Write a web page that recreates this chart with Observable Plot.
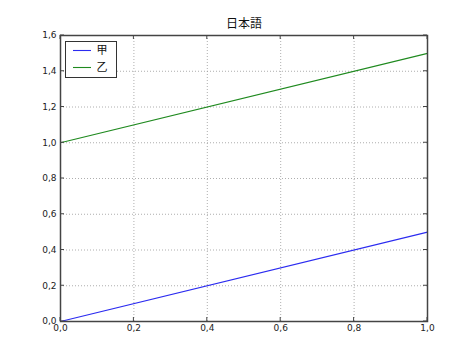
<!DOCTYPE html>
<html>
<head>
<meta charset="utf-8">
<script src="https://cdn.jsdelivr.net/npm/d3@7"></script>
<script src="https://cdn.jsdelivr.net/npm/@observablehq/plot@0.6"></script>
<style>
  body { margin: 0; background: #fff; }
</style>
</head>
<body>
<div id="chart"></div>
<script>
// Chart content
const chartTitle = "日本語";
const xValues = [0, 1];
const seriesNames = ["甲", "乙"];
const koValues = [0, 0.5];    // 甲
const otsuValues = [1, 1.5];  // 乙
const seriesColors = ["#2b2bf0", "#1f8a1f"];
const xTicks = [0, 0.2, 0.4, 0.6, 0.8, 1.0];
const yTicks = [0, 0.2, 0.4, 0.6, 0.8, 1.0, 1.2, 1.4, 1.6];

// Decimal comma tick labels
const fmt = d => d.toFixed(1).replace(".", ",");

const rows = [
  ...xValues.map((x, i) => ({ series: seriesNames[0], x, y: koValues[i] })),
  ...xValues.map((x, i) => ({ series: seriesNames[1], x, y: otsuValues[i] }))
];

const W = 474, H = 357;
const M = { left: 60, right: 47, top: 35, bottom: 36 };

const plot = Plot.plot({
  width: W,
  height: H,
  marginLeft: M.left,
  marginRight: M.right,
  marginTop: M.top,
  marginBottom: M.bottom,
  style: { fontFamily: "DejaVu Sans", fontSize: "9px", color: "#222", background: "#fff" },
  x: { domain: [0, 1], label: null },
  y: { domain: [0, 1.6], label: null },
  color: { domain: seriesNames, range: seriesColors },
  marks: [
    Plot.gridX(xTicks, { stroke: "#999", strokeOpacity: 1, strokeWidth: 0.8, strokeDasharray: "1,2" }),
    Plot.gridY(yTicks, { stroke: "#999", strokeOpacity: 1, strokeWidth: 0.8, strokeDasharray: "1,2" }),
    Plot.line(rows, { x: "x", y: "y", z: "series", stroke: "series", strokeWidth: 1.1 }),
    Plot.frame({ stroke: "#444", strokeWidth: 1.5 }),
    Plot.axisX(xTicks, { tickSize: 0, tickPadding: 3, tickFormat: fmt, label: null }),
    Plot.axisY(yTicks, { tickSize: 0, tickPadding: 4, tickFormat: fmt, label: null }),
    Plot.text([chartTitle], {
      frameAnchor: "top", dy: -8, lineAnchor: "bottom",
      fontSize: 12, fontFamily: "Noto Sans CJK JP", fill: "#111"
    })
  ]
});

document.getElementById("chart").appendChild(plot);

// Inward ticks on all four sides
const sx = plot.scale("x"), sy = plot.scale("y");
const svg = d3.select(plot);
const x0 = M.left, x1 = W - M.right, y0 = M.top, y1 = H - M.bottom;
const tickLen = 4;
const tg = svg.append("g").attr("stroke", "#444").attr("stroke-width", 1);
for (const t of xTicks) {
  const px = sx.apply(t);
  tg.append("line").attr("x1", px).attr("x2", px).attr("y1", y1).attr("y2", y1 - tickLen);
  tg.append("line").attr("x1", px).attr("x2", px).attr("y1", y0).attr("y2", y0 + tickLen);
}
for (const t of yTicks) {
  const py = sy.apply(t);
  tg.append("line").attr("y1", py).attr("y2", py).attr("x1", x0).attr("x2", x0 + tickLen);
  tg.append("line").attr("y1", py).attr("y2", py).attr("x1", x1).attr("x2", x1 - tickLen);
}

// Legend in the upper-left corner of the frame
const lg = svg.append("g").attr("transform", `translate(${x0 + 5},${y0 + 6})`);
lg.append("rect")
  .attr("x", 0.5).attr("y", 0.5).attr("width", 51).attr("height", 36)
  .attr("fill", "#fff").attr("stroke", "#333").attr("stroke-width", 1);
seriesNames.forEach((name, i) => {
  const cy = 9.5 + i * 17;
  lg.append("line")
    .attr("x1", 8).attr("x2", 26).attr("y1", cy).attr("y2", cy)
    .attr("stroke", seriesColors[i]).attr("stroke-width", 1.1);
  lg.append("text")
    .attr("x", 37).attr("y", cy).attr("dy", "0.35em")
    .attr("font-family", "Noto Sans CJK JP").attr("font-size", 11).attr("fill", "#111")
    .text(name);
});
</script>
</body>
</html>
